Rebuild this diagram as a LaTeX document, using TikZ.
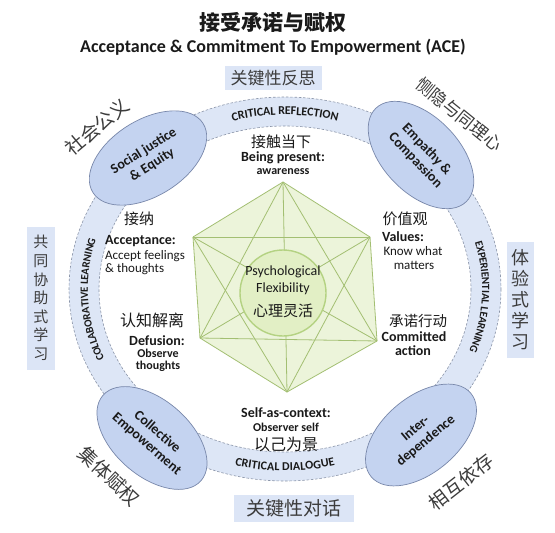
\documentclass[tikz,border=0pt]{standalone}
\usepackage{fontspec}
\setmainfont{Carlito}
\newfontfamily\cjk{Noto Sans CJK SC}
\usetikzlibrary{shapes.geometric,decorations.text}
\newcommand\fsz[2]{\fontsize{#1}{#2}\selectfont}
\definecolor{hexfill}{HTML}{ECF4DA}
\definecolor{hexline}{HTML}{A3BF72}
\definecolor{circfill}{HTML}{E2EFC5}
\definecolor{circline}{HTML}{B4D282}
\definecolor{ringfill}{HTML}{DDE6F6}
\definecolor{ringline}{HTML}{8A94A8}
\definecolor{ellfill}{HTML}{C4D3F0}
\definecolor{ellline}{HTML}{7887AA}
\definecolor{boxfill}{HTML}{DCE5F6}
\definecolor{txt}{HTML}{1A1A1A}
\definecolor{labgrey}{HTML}{3C3C3C}
\begin{document}
\begin{tikzpicture}[x=1pt,y=-1pt,
  ell/.style={ellipse, draw=ellline, fill=ellfill, line width=0.7pt, minimum width=130pt, minimum height=76pt, inner sep=0pt, align=center, text=txt, font=\bfseries\fsz{14}{16}},
  outerlab/.style={inner sep=0pt, text=labgrey, font=\cjk\fsz{19}{19}},
  cjklab/.style={inner sep=0pt, text=txt, font=\cjk\fsz{15}{15}},
  headlab/.style={inner sep=0pt, text=txt, font=\bfseries\fsz{14}{14}},
  desclab/.style={inner sep=0pt, text=txt, font=\fsz{13}{13}},
  descbold/.style={inner sep=0pt, text=txt, font=\bfseries\fsz{12}{12}},
  cbox/.style={fill=boxfill, inner sep=0pt, text=labgrey, align=center},
  bandtext/.style 2 args={decorate, decoration={text along path, text align=center, raise=-3.8pt, text={|\bfseries\fsz{#1}{#1}\color{txt}|#2}}},
  ringedge/.style={draw=ringline, dash pattern=on 2.5pt off 1.8pt, line width=0.6pt}
]
\useasboundingbox (0,0) rectangle (555,533);
\fill[white] (0,0) rectangle (555,533);

% titles
\node[inner sep=0pt, text=txt, font=\cjk\bfseries\fsz{21}{21}] (t1) at (273,22) {接受承诺与赋权};
\node[inner sep=0pt, text=txt, font=\bfseries\fsz{18}{18}] (t2) at (273,47) {Acceptance \& Commitment To Empowerment (ACE)};

% ring
\coordinate (rc) at (285,289);
\fill[ringfill, even odd rule] (rc) ellipse [x radius=216, y radius=192] (rc) ellipse [x radius=186, y radius=163];
\path[ringedge] (rc) ellipse [x radius=216, y radius=192];
\path[ringedge] (rc) ellipse [x radius=186, y radius=163];

% band texts
\path[bandtext={12}{CRITICAL REFLECTION}] ([shift={(-150:201 and 178)}]rc) arc[start angle=-150, end angle=-30, x radius=201, y radius=178];
\path[bandtext={12}{CRITICAL DIALOGUE}] ([shift={(150:201 and 178)}]rc) arc[start angle=150, end angle=30, x radius=201, y radius=178];
\path[bandtext={11}{COLLABORATIVE LEARNING}] ([shift={(146.5:201 and 178)}]rc) arc[start angle=146.5, end angle=206.5, x radius=201, y radius=178];
\path[bandtext={11}{EXPERIENTIAL LEARNING}] ([shift={(-27.4:201 and 178)}]rc) arc[start angle=-27.4, end angle=32.6, x radius=201, y radius=178];

% ellipses
\node[ell, rotate=32] (sj) at (148,158) {Social justice\\\& Equity};
\node[ell, rotate=-46] (ec) at (421,155) {Empathy \&\\Compassion};
\node[ell, rotate=-41] (ce) at (152,438) {Collective\\Empowerment};
\node[ell, rotate=40] (id) at (421,435) {Inter-\\dependence};

% outer labels
\node[outerlab, rotate=40] (l1) at (97,127) {社会公义};
\node[outerlab, rotate=-39, font=\cjk\fsz{17.5}{17.5}] (l2) at (459,114) {恻隐与同理心};
\node[outerlab, rotate=-43] (l3) at (109,476) {集体赋权};
\node[outerlab, rotate=38] (l4) at (461,482) {相互依存};

% boxes
\node[cbox, minimum width=97pt, minimum height=24pt, font=\cjk\fsz{17}{17}] (b1) at (273,78) {关键性反思};
\node[cbox, minimum width=120pt, minimum height=27pt, font=\cjk\fsz{19}{19}] (b2) at (294,508) {关键性对话};
\node[cbox, minimum width=28pt, minimum height=143pt, font=\cjk\fsz{15}{18.6}] (b3) at (41,298) {共\\同\\协\\助\\式\\学\\习};
\node[cbox, minimum width=27pt, minimum height=116pt, font=\cjk\fsz{18}{21}] (b4) at (520,300) {体\\验\\式\\学\\习};

% hexagon
\coordinate (h1) at (283,182);
\coordinate (h2) at (370,237);
\coordinate (h3) at (377,341);
\coordinate (h4) at (287,392);
\coordinate (h5) at (200,338);
\coordinate (h6) at (193,237);
\fill[hexfill] (h1) -- (h2) -- (h3) -- (h4) -- (h5) -- (h6) -- cycle;
\foreach \a/\b in {1/2,1/3,1/4,1/5,1/6,2/3,2/4,2/5,2/6,3/4,3/5,3/6,4/5,4/6,5/6}
  \draw[hexline, line width=0.8pt] (h\a) -- (h\b);
\node[circle, fill=circfill, draw=circline, line width=1.4pt, minimum size=86pt, inner sep=0pt] (pc) at (283,293) {};
\node[inner sep=0pt, text=txt, font=\fsz{14}{14}] (pf1) at (283,272) {Psychological};
\node[inner sep=0pt, text=txt, font=\fsz{14}{14}] (pf2) at (283,289) {Flexibility};
\node[cjklab] (pf3) at (283,311) {心理灵活};

% top block
\node[cjklab] (p1) at (281,142) {接触当下};
\node[headlab] (p2) at (283,158) {Being present:};
\node[descbold] (p3) at (283,172) {awareness};

% acceptance block
\node[cjklab] (a1) at (139,219) {接纳};
\node[headlab, anchor=west] (a2) at (105,241) {Acceptance:};
\node[desclab, anchor=west] (a3) at (105,256) {Accept feelings};
\node[desclab, anchor=west] (a4) at (105,269) {\& thoughts};

% defusion block
\node[cjklab, font=\cjk\fsz{16}{16}] (d1) at (152,320) {认知解离};
\node[headlab] (d2) at (157,341) {Defusion:};
\node[descbold] (d3) at (158,353) {Observe};
\node[descbold] (d4) at (158,366) {thoughts};

% values block
\node[cjklab] (v1) at (405,219) {价值观};
\node[headlab] (v2) at (403,237) {Values:};
\node[desclab] (v3) at (413,251) {Know what};
\node[desclab] (v4) at (414,265) {matters};

% committed block
\node[cjklab, font=\cjk\fsz{14.5}{14.5}] (c1) at (418,321) {承诺行动};
\node[headlab] (c2) at (414,337) {Committed};
\node[headlab] (c3) at (413,351) {action};

% self block
\node[headlab] (s1) at (286,413) {Self-as-context:};
\node[descbold] (s2) at (286,427) {Observer self};
\node[cjklab, font=\cjk\fsz{16}{16}] (s3) at (286,444) {以己为景};
\end{tikzpicture}
\end{document}
